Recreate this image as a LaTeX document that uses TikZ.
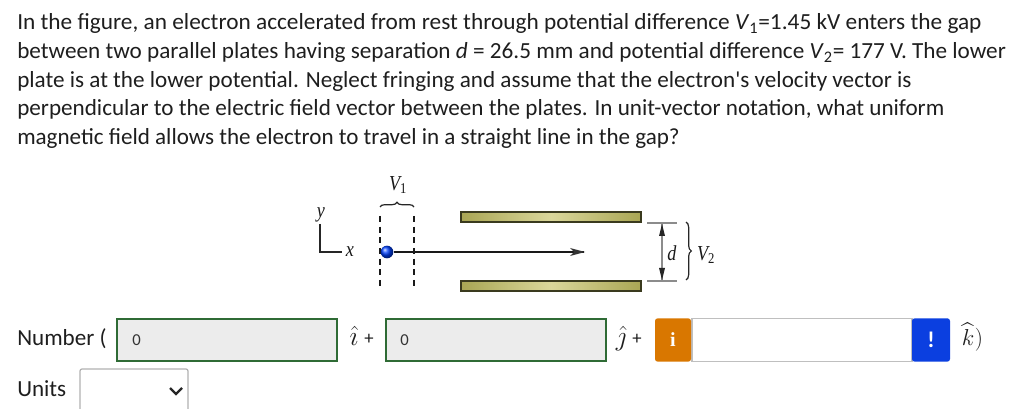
\documentclass[tikz,border=0pt]{standalone}
\usepackage{fontspec}
\usepackage{amsmath}
\setmainfont{Carlito}[Ligatures=TeXOff]
\newfontfamily\serifit[Scale=1]{Liberation Serif}
\usetikzlibrary{arrows.meta,decorations.pathreplacing,calc}
\definecolor{plateedge}{HTML}{3A3A1E}
\definecolor{plateA}{HTML}{A9A654}
\definecolor{plateB}{HTML}{DAD79A}
\definecolor{boxgreen}{HTML}{2F6B35}
\definecolor{boxfill}{HTML}{ECECEC}
\definecolor{orangeb}{HTML}{D97700}
\definecolor{blueb}{HTML}{0B3FE0}
\definecolor{txt}{HTML}{1E1E1E}
\tikzset{
  x=0.75pt,y=-0.75pt,
  line/.style={anchor=base west,inner sep=0pt,font=\fontsize{17.3pt}{19pt}\selectfont,text=txt},
  lbl/.style={inner sep=0pt,font=\fontsize{17.3pt}{19pt}\selectfont,text=txt},
  plate/.style={draw=plateedge,line width=1.1pt,left color=plateA,right color=plateA,middle color=plateB,minimum width=135pt,minimum height=7.5pt,inner sep=0pt},
  answer/.style={draw=boxgreen,fill=boxfill,line width=0.9pt,minimum width=165pt,minimum height=31.5pt,inner sep=0pt},
  dim/.style={draw=black!90,line width=1pt,dash pattern=on 4.5pt off 3.5pt},
  fig/.style={inner sep=0pt,text=black!90,xscale=0.85,font=\serifit\itshape\fontsize{16pt}{18pt}\selectfont},
  hat/.style={inner sep=0pt,font=\fontsize{19pt}{21pt}\selectfont,text=txt},
  zero/.style={inner sep=0pt,font=\fontsize{12.5pt}{14pt}\selectfont,text=black!80},
}
\begin{document}
\begin{tikzpicture}
\useasboundingbox (0,0) rectangle (1024,409);
\fill[white] (0,0) rectangle (1024,409);
% question text
\node[line,xscale=1.0105] (l1) at (17,30) {In the figure, an electron accelerated from rest through potential difference \textit{V}\textsubscript{1}=1.45 kV enters the gap};
\node[line,xscale=1.006] (l2) at (17,59) {between two parallel plates having separation \textit{d} = 26.5 mm and potential difference \textit{V}\textsubscript{2}= 177 V. The lower};
\node[line,xscale=1.003] (l3) at (17,88) {plate is at the lower potential. Neglect fringing and assume that the electron's velocity vector is};
\node[line,xscale=1.003] (l4) at (17,116) {perpendicular to the electric field vector between the plates. In unit-vector notation, what uniform};
\node[line] (l5) at (17,145) {magnetic field allows the electron to travel in a straight line in the gap?};
% plates
\node[plate] (top) at (551,217) {};
\node[plate] (bot) at (551,286) {};
% axes
\coordinate (yend) at (320,224);
\coordinate (orig) at (320,252);
\coordinate (xend) at (342,252);
\draw[line width=1.1pt,black!85] (yend) -- (orig) -- (xend);
\node[fig] (ylab) at (321,215) {y};
\node[fig] (xlab) at (350,252) {x};
% V1
\coordinate (d1a) at (380,216);
\coordinate (d1b) at (380,287);
\coordinate (d2a) at (414,216);
\coordinate (d2b) at (414,287);
\draw[dim] (d1a) -- (d1b);
\draw[dim] (d2a) -- (d2b);
\draw[line width=0.9pt,black!85,decorate,decoration={brace,amplitude=3.5pt}] (380,207) -- (414,207);
\node[fig] (v1) at (398,185) {V\textsubscript{\upshape 1}};
% electron and beam
\node[circle,minimum size=9.5pt,inner sep=0pt,ball color=blue!75!cyan,shading=ball] (el) at (387,252) {};
\coordinate (tip) at (584,252);
\draw[line width=1.2pt,black!90] (el) -- (tip);
\fill[black!80] (585,252) -- (570,248) -- (574,252) -- (570,256) -- cycle;
% d dimension
\coordinate (ta) at (647,223);
\coordinate (tb) at (677,223);
\coordinate (ba) at (647,281);
\coordinate (bb) at (677,281);
\draw[line width=0.9pt,black!45] (ta) -- (tb);
\draw[line width=0.9pt,black!45] (ba) -- (bb);
\draw[line width=1pt,black!45] (662,224) -- (662,280);
\fill[black!85] (662,224) -- (659,236) -- (665,236) -- cycle;
\fill[black!85] (662,280) -- (659,268) -- (665,268) -- cycle;
\node[fig] (d) at (672,253) {d};
\draw[line width=0.9pt,black!85,decorate,decoration={brace,amplitude=4pt}] (686,222) -- (686,280);
\node[fig] (v2) at (706,255) {V\textsubscript{\upshape 2}};
% answer row
\node[lbl,anchor=base west] (num) at (17,346) {Number (};
\node[answer] (a1) at (227,340) {};
\node[zero,anchor=west] (z1) at (132,340) {0};
\node[hat,anchor=base,scale=1.2] (ihat) at (354,346) {$\hat{\imath}$};
\node[lbl,font=\fontsize{14pt}{15pt}\selectfont] (p1) at (369,339) {+};
\node[answer] (a2) at (496,340) {};
\node[zero,anchor=west] (z2) at (400,340) {0};
\node[hat,anchor=base,scale=1.2] (jhat) at (621,346) {$\hat{\jmath}$};
\node[lbl,font=\fontsize{14pt}{15pt}\selectfont] (p2) at (637,339) {+};
\draw[draw=black!25,line width=1pt,fill=white] (692,318.5) rectangle (912,361.5);
\node[draw=none,fill=orangeb,rounded corners=2pt,minimum width=27pt,minimum height=32.5pt,inner sep=0pt,text=white,font=\serifit\bfseries\fontsize{15pt}{17pt}\selectfont] (ib) at (673,340) {i};
\node[draw=none,fill=blueb,rounded corners=2pt,minimum width=28.5pt,minimum height=32.5pt,inner sep=0pt,text=white,font=\bfseries\fontsize{17pt}{19pt}\selectfont] (eb) at (931,340) {!};
\node[hat,anchor=base] (khat) at (968,346) {$\widehat{k}$};
\node[hat,anchor=base] (cl) at (979,346) {$)$};
\node[lbl,anchor=base west] (units) at (17,397) {Units};
\draw[draw=black!30,line width=0.9pt,rounded corners=1.5pt] (80,409) -- (80,369) -- (188,369) -- (188,409);
\coordinate (c1) at (170,388);
\coordinate (c2) at (176,394);
\coordinate (c3) at (182,388);
\draw[line width=1.6pt,black!85] (c1) -- (c2) -- (c3);
\end{tikzpicture}
\end{document}
